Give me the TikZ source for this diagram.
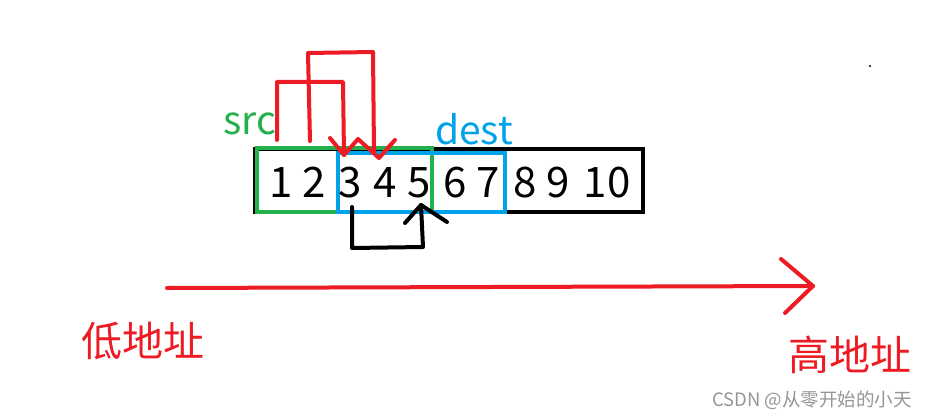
\documentclass[tikz,border=0pt]{standalone}
\usepackage{fontspec}
\newfontfamily\cjk{Noto Sans CJK SC}
\definecolor{pred}{RGB}{237,28,36}
\definecolor{pgreen}{RGB}{34,177,76}
\definecolor{pblue}{RGB}{0,162,232}
\definecolor{pgray}{RGB}{150,150,150}
\tikzset{
  digit/.style={anchor=base,inner sep=0pt,font=\cjk\fontsize{42}{42}\selectfont},
  redline/.style={draw=pred,line width=4pt,line join=round,line cap=round},
  blackline/.style={draw=black,line width=4pt,line join=round,line cap=round},
  redtext/.style={text=pred,inner sep=0pt,font=\cjk\fontsize{41}{41}\selectfont},
}
\begin{document}
\begin{tikzpicture}[x=1pt,y=-1pt]
\useasboundingbox[fill=white] (0,0) rectangle (926,417);
% boxes
\draw[line width=4pt] (255,149) rectangle (643,212);
\draw[pgreen,line width=4pt] (257,148) rectangle (432,212);
\draw[pblue,line width=4pt] (338,153) rectangle (505,212);
% digits
\node[digit] (n1) at (281,197) {1};
\node[digit] (n2) at (314,197) {2};
\node[digit] (n3) at (350,197) {3};
\node[digit] (n4) at (385,197) {4};
\node[digit] (n5) at (419,197) {5};
\node[digit] (n6) at (455,197) {6};
\node[digit] (n7) at (488,197) {7};
\node[digit] (n8) at (525,197) {8};
\node[digit] (n9) at (558,197) {9};
\node[digit] (n10) at (607,197) {10};
% labels
\node[anchor=base west,inner sep=0pt,text=pgreen,font=\cjk\fontsize{39}{39}\selectfont] (src) at (223,135) {src};
\node[anchor=base west,inner sep=0pt,text=pblue,font=\cjk\fontsize{39}{39}\selectfont] (dest) at (435,145) {dest};
% red copy arrows
\coordinate (a1s) at (277,140);
\coordinate (a1e) at (344,155);
\coordinate (a2s) at (310,141);
\coordinate (a2e) at (374,152);
\draw[redline] (a1s) -- (277,82) -- (343,82) -- (a1e);
\draw[redline] (a2s) -- (308,53) -- (373,52) -- (a2e);
\draw[redline] (330,138) -- (a1e) -- (358,139) -- (379,158) -- (395,140);
% black arrow
\coordinate (b1) at (352,207);
\coordinate (b2) at (421,205);
\draw[blackline] (b1) -- (352,248) -- (423,247) -- (b2);
\draw[blackline] (405,223) -- (b2) -- (447,222);
% address arrow
\node[redtext,anchor=north west] (low) at (81,322) {低地址};
\node[redtext,anchor=north east] (high) at (912,336) {高地址};
\coordinate (ls) at (167,288);
\coordinate (le) at (813,286);
\draw[redline] (ls) -- (le);
\draw[redline] (781,259) -- (le) -- (785,313);
% watermark and dot
\node[anchor=base east,inner sep=0pt,text=pgray,font=\cjk\fontsize{18.5}{18.5}\selectfont] (wm) at (912,406) {CSDN @从零开始的小天};
\fill (870,66) circle (1.2);
\end{tikzpicture}
\end{document}
